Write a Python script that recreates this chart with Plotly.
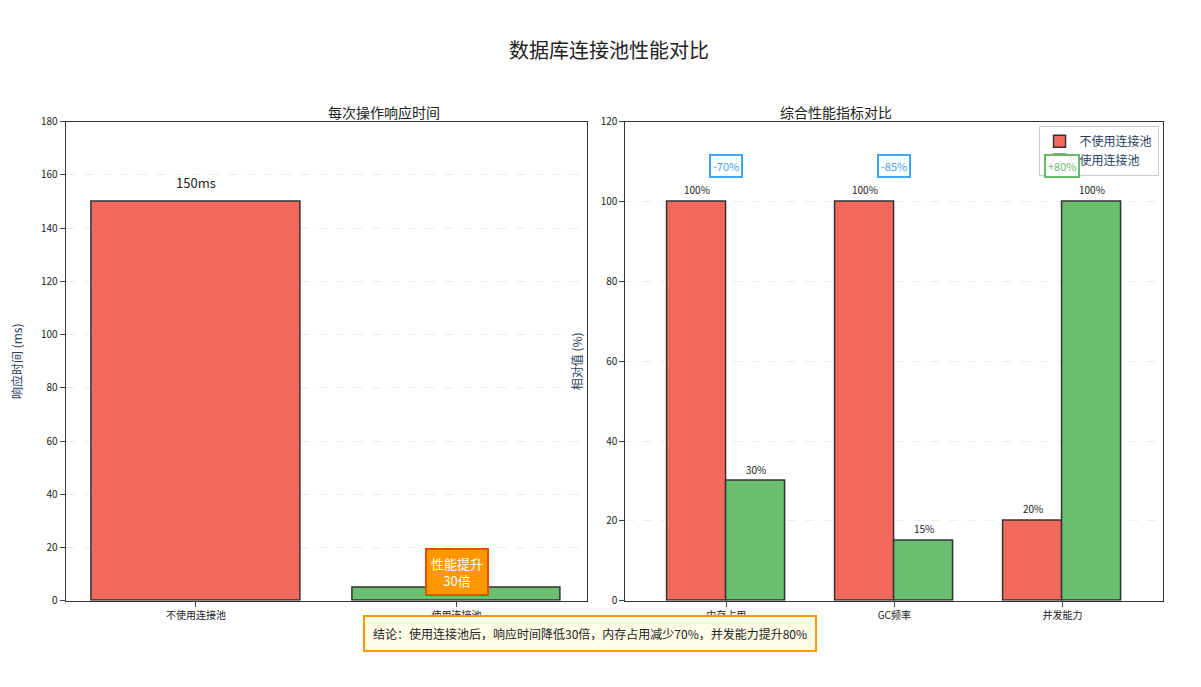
import plotly.graph_objects as go

left_cats = ["不使用连接池", "使用连接池"]
left_vals = [150, 5]
right_cats = ["内存占用", "GC频率", "并发能力"]
no_pool = [100, 100, 20]
with_pool = [30, 15, 100]
diff_labels = ["-70%", "-85%", "+80%"]
diff_colors = ["#42a5f5", "#42a5f5", "#66bb6a"]

RED = "#f4695e"; GREEN = "#6cbf6f"
F = "Noto Sans CJK SC"
fig = go.Figure()
fig.add_bar(x=left_cats, y=left_vals, marker=dict(color=[RED, GREEN], line=dict(color="#333", width=1.5)),
            width=0.8, xaxis="x", yaxis="y", showlegend=False)
fig.add_bar(x=right_cats, y=no_pool, name="不使用连接池", marker=dict(color=RED, line=dict(color="#333", width=1.5)),
            width=0.35, offset=-0.35, xaxis="x2", yaxis="y2")
fig.add_bar(x=right_cats, y=with_pool, name="使用连接池", marker=dict(color=GREEN, line=dict(color="#333", width=1.5)),
            width=0.35, offset=0, xaxis="x2", yaxis="y2")

ann = [
    dict(text="数据库连接池性能对比", x=0.5, y=0.975, xref="paper", yref="paper", showarrow=False, font=dict(size=20, color="#222")),
    dict(text="每次操作响应时间", x=0.265, y=0.875, xref="paper", yref="paper", showarrow=False, font=dict(size=14, color="#222")),
    dict(text="综合性能指标对比", x=0.738, y=0.875, xref="paper", yref="paper", showarrow=False, font=dict(size=14, color="#222")),
    dict(text=f"{left_vals[0]}ms", x=left_cats[0], y=left_vals[0] + 7, xref="x", yref="y", showarrow=False, font=dict(size=13, color="#222")),
    dict(text="性能提升<br>30倍", x=left_cats[1], y=left_vals[1] + 6, xref="x", yref="y", showarrow=False,
         font=dict(size=13, color="white"), bgcolor="#ff9800", bordercolor="#e65100", borderwidth=2, borderpad=4),
    dict(text="结论：使用连接池后，响应时间降低30倍，内存占用减少70%，并发能力提升80%", x=0.485, y=0.055, xref="paper", yref="paper",
         showarrow=False, font=dict(size=12, color="#222"), bgcolor="#fffde7", bordercolor="#ff9800", borderwidth=2, borderpad=8),
]
for i, c in enumerate(right_cats):
    ann.append(dict(text=f"{no_pool[i]}%", x=i - 0.175, y=no_pool[i] + 3, xref="x2", yref="y2", showarrow=False, font=dict(size=10, color="#222")))
    ann.append(dict(text=f"{with_pool[i]}%", x=i + 0.175, y=with_pool[i] + 3, xref="x2", yref="y2", showarrow=False, font=dict(size=10, color="#222")))
    ann.append(dict(text=diff_labels[i], x=i, y=109, xref="x2", yref="y2", showarrow=False, font=dict(size=11, color=diff_colors[i]),
                    bgcolor="white", bordercolor=diff_colors[i], borderwidth=2, borderpad=2))

ax = dict(showline=True, linecolor="#333", mirror=True, ticks="outside", tickfont=dict(size=10, color="#222"))
fig.update_layout(
    width=1201, height=687, margin=dict(l=0, r=0, t=0, b=0), plot_bgcolor="white", paper_bgcolor="white",
    font=dict(family=F), bargap=0,
    xaxis=dict(domain=[0.048, 0.482], anchor="y", **ax),
    yaxis=dict(domain=[0.131, 0.843], anchor="x", range=[0, 180], dtick=20, showgrid=True, gridcolor="#eee", griddash="dash",
               title=dict(text="响应时间 (ms)", font=dict(size=12)), **ax),
    xaxis2=dict(domain=[0.514, 0.962], anchor="y2", range=[-0.6, 2.6], **ax),
    yaxis2=dict(domain=[0.131, 0.843], anchor="x2", range=[0, 120], dtick=20, showgrid=True, gridcolor="#eee", griddash="dash",
                title=dict(text="相对值 (%)", font=dict(size=12)), **ax),
    legend=dict(x=0.958, y=0.837, xanchor="right", yanchor="top", bgcolor="white", bordercolor="#ccc", borderwidth=1,
                font=dict(size=12)),
    annotations=ann,
)
fig.write_html("out.html")
